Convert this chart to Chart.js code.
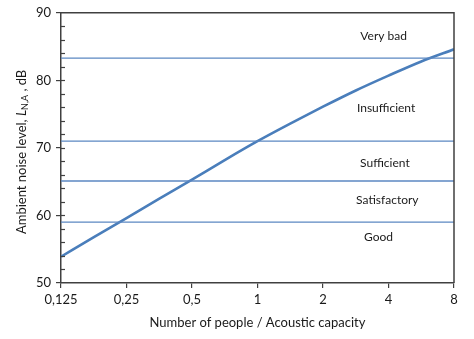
<!DOCTYPE html>
<html>
<head>
<meta charset="utf-8">
<script src="https://cdn.jsdelivr.net/npm/chart.js@4/dist/chart.umd.min.js"></script>
<style>
  html, body { margin: 0; padding: 0; background: #fff; }
  #wrap { position: relative; width: 474px; height: 339px; }
</style>
</head>
<body>
<div id="wrap"><canvas id="noiseChart" width="474" height="339"></canvas></div>
<script>
// x axis: people / acoustic capacity (log2 spacing)
const xTicks = [0.125, 0.25, 0.5, 1, 2, 4, 8];
const yMin = 50, yMax = 90, yStep = 10, yMinorStep = 2;

// ambient noise curve
const ratio = [0.125, 0.177, 0.25, 0.354, 0.5, 0.707, 1, 1.414, 2, 2.83, 4, 5.66, 8];
const noiseLevel = [53.9, 56.8, 59.6, 62.5, 65.3, 68.2, 71.0, 73.6, 76.1, 78.5, 80.7, 82.8, 84.6];

// class limits and labels
const limits = [83.3, 71.0, 65.1, 59.0];
const classNames = ["Very bad", "Insufficient", "Sufficient", "Satisfactory", "Good"];
const classLabelY = [86.6, 75.9, 67.8, 62.3, 56.8];
const classLabelX = [3.8, 3.9, 3.85, 3.95, 3.6];

const FONT = "Lato, 'Open Sans', sans-serif";
const AXIS = "#404040";
const BLUE = "#4a7ebb";

const curveData = ratio.map((r, i) => ({ x: r, y: noiseLevel[i] }));
const limitSets = limits.map(v => ({
  data: [{ x: xTicks[0], y: v }, { x: xTicks[xTicks.length - 1], y: v }],
  borderColor: "#5b87c2",
  borderWidth: 1.3,
  pointRadius: 0,
  tension: 0
}));

const decor = {
  id: "decor",
  afterDraw(chart) {
    const { ctx, chartArea: a, scales: { x, y } } = chart;
    ctx.save();
    ctx.strokeStyle = AXIS;
    ctx.lineWidth = 1.5;
    // top and right frame
    ctx.beginPath();
    ctx.moveTo(a.left, a.top);
    ctx.lineTo(a.right, a.top);
    ctx.lineTo(a.right, a.bottom);
    ctx.stroke();
    // y ticks inside the plot
    ctx.lineWidth = 1.2;
    for (let v = yMin + yMinorStep; v < yMax; v += yMinorStep) {
      const py = Math.round(y.getPixelForValue(v)) + 0.5;
      ctx.beginPath();
      ctx.moveTo(a.left, py);
      ctx.lineTo(a.left + 4, py);
      ctx.stroke();
    }
    // class labels
    ctx.fillStyle = "#1a1a1a";
    ctx.font = "12px " + FONT;
    ctx.textAlign = "center";
    ctx.textBaseline = "middle";
    classNames.forEach((t, i) => {
      ctx.fillText(t, x.getPixelForValue(classLabelX[i]), y.getPixelForValue(classLabelY[i]));
    });
    // x title
    ctx.font = "13px " + FONT;
    ctx.fillText("Number of people / Acoustic capacity", (a.left + a.right) / 2, 323);
    // y title with italic L and subscript
    const parts = [
      { t: "Ambient noise level, ", f: "13px " + FONT, dy: 0 },
      { t: "L", f: "italic 13px " + FONT, dy: 0 },
      { t: "N,A", f: "9px " + FONT, dy: 3 },
      { t: " , dB", f: "13px " + FONT, dy: 0 }
    ];
    let total = 0;
    parts.forEach(p => { ctx.font = p.f; p.w = ctx.measureText(p.t).width; total += p.w; });
    ctx.translate(22, (a.top + a.bottom) / 2 + 4);
    ctx.rotate(-Math.PI / 2);
    ctx.textAlign = "left";
    let cx = -total / 2;
    parts.forEach(p => {
      ctx.font = p.f;
      ctx.fillText(p.t, cx, p.dy);
      cx += p.w;
    });
    ctx.restore();
  }
};

new Chart(document.getElementById("noiseChart"), {
  type: "line",
  data: {
    datasets: [
      ...limitSets,
      {
        data: curveData,
        borderColor: BLUE,
        borderWidth: 2.6,
        pointRadius: 0,
        cubicInterpolationMode: "monotone"
      }
    ]
  },
  options: {
    responsive: false,
    animation: false,
    layout: { padding: { top: 12, right: 20, left: 0, bottom: 0 } },
    plugins: { legend: { display: false }, tooltip: { enabled: false } },
    scales: {
      x: {
        type: "logarithmic",
        min: xTicks[0],
        max: xTicks[xTicks.length - 1],
        afterBuildTicks: s => { s.ticks = xTicks.map(v => ({ value: v })); },
        afterFit: s => { s.height = 56; },
        grid: { drawOnChartArea: false, tickLength: 5, color: AXIS, lineWidth: 1.2 },
        border: { color: AXIS, width: 1.5 },
        ticks: {
          color: "#1a1a1a",
          font: { family: FONT, size: 13 },
          padding: 4,
          maxRotation: 0,
          autoSkip: false,
          callback: v => String(v).replace(".", ",")
        }
      },
      y: {
        min: yMin,
        max: yMax,
        afterFit: s => { s.width = 61; },
        grid: { drawOnChartArea: false, tickLength: 5, color: AXIS, lineWidth: 1.2 },
        border: { color: AXIS, width: 1.5 },
        ticks: {
          stepSize: yStep,
          color: "#1a1a1a",
          font: { family: FONT, size: 13 },
          padding: 5
        }
      }
    }
  },
  plugins: [decor]
});
</script>
</body>
</html>
